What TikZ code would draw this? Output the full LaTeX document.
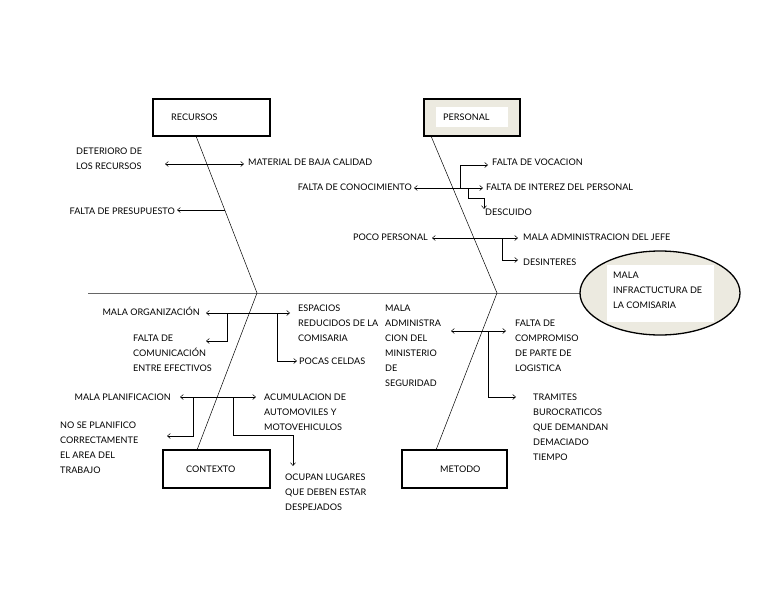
\documentclass[tikz,border=0pt]{standalone}
\usepackage{fontspec}
\setmainfont{Lato}
\usetikzlibrary{arrows.meta}
\begin{document}
\begin{tikzpicture}[x=1pt,y=-1pt,
  lbl/.style={anchor=west,align=left,inner sep=0pt,font=\fontsize{9.1}{15}\selectfont},
  lble/.style={lbl,anchor=east},
  bone/.style={draw,line width=0.5pt},
  arr/.style={-{Straight Barb[length=3pt,width=5pt]},line width=0.5pt},
  darr/.style={{Straight Barb[length=3pt,width=5pt]}-{Straight Barb[length=3pt,width=5pt]},line width=0.5pt}]
\useasboundingbox (0,0) rectangle (768,594);
% spine and head
\draw[gray!80!black,line width=1pt] (88,293) -- (582,293);
\draw[line width=1.3pt,fill={rgb,255:red,236;green,234;blue,224}] (660,293) ellipse (80 and 42);
\fill[white] (607,265) rectangle (714,322);
\node[lbl] (head) at (613,290) {MALA\\INFRACTUCTURA DE\\LA COMISARIA};
% category boxes
\draw[line width=1.3pt] (153,99) rectangle (270,136);
\node[lbl] (rec) at (171,117.5) {RECURSOS};
\draw[line width=1.3pt,fill={rgb,255:red,236;green,234;blue,224}] (424,99) rectangle (520,136);
\fill[white] (436,107) rectangle (508,127);
\node[lbl] (per) at (443,117.5) {PERSONAL};
\draw[line width=1.3pt] (163,450) rectangle (270,488);
\node[lbl] (ctx) at (186,469) {CONTEXTO};
\draw[line width=1.3pt] (402,450) rectangle (507,488);
\node[lbl] (met) at (440,469) {METODO};
% bones
\coordinate (j1) at (257,293); \coordinate (j2) at (497,293);
\draw[bone] (196,136) -- (j1) -- (197,450);
\draw[bone] (431,136) -- (j2) -- (436,450);
% RECURSOS
\node[lbl] (det) at (76,159) {DETERIORO DE\\LOS RECURSOS};
\node[lbl] (mat) at (248,162) {MATERIAL DE BAJA CALIDAD};
\draw[darr] (165,164) -- (244,164);
\node[lble] (pre) at (175,211) {FALTA DE PRESUPUESTO};
\draw[arr] (225,210) -- (177,210);
% PERSONAL
\node[lble] (con) at (412,187) {FALTA DE CONOCIMIENTO};
\node[lbl] (int) at (486,187) {FALTA DE INTEREZ DEL PERSONAL};
\node[lbl] (voc) at (492,162) {FALTA DE VOCACION};
\node[lbl] (des) at (485,212) {DESCUIDO};
\draw[darr] (414,188) -- (483,188);
\draw[arr] (460,188) -- (460,165) -- (488,165);
\draw[arr] (468,188) -- (468,198) -- (484,198) -- (484,209);
\node[lble] (poc) at (428,237) {POCO PERSONAL};
\node[lbl] (adm) at (523,237) {MALA ADMINISTRACION DEL JEFE};
\node[lbl] (dsi) at (523,262) {DESINTERES};
\draw[darr] (432,238) -- (518,238);
\draw[arr] (502,238) -- (502,260) -- (518,260);
% CONTEXTO upper
\node[lble] (org) at (200,311) {MALA ORGANIZACIÓN};
\node[lbl] (esp) at (298,323) {ESPACIOS\\REDUCIDOS DE LA\\COMISARIA};
\node[lbl] (com) at (133,353) {FALTA DE\\COMUNICACIÓN\\ENTRE EFECTIVOS};
\node[lbl] (cel) at (299,361) {POCAS CELDAS};
\draw[darr] (206,313) -- (290,313);
\draw[arr] (227,313) -- (227,341) -- (206,341);
\draw[arr] (277,313) -- (277,361) -- (297,361);
% CONTEXTO lower
\node[lble] (pla) at (171,397) {MALA PLANIFICACION};
\node[lbl] (acu) at (264,412) {ACUMULACION DE\\AUTOMOVILES Y\\MOTOVEHICULOS};
\node[lbl] (nos) at (60,447.5) {NO SE PLANIFICO\\CORRECTAMENTE\\EL AREA DEL\\TRABAJO};
\node[lbl] (ocu) at (285,492) {OCUPAN LUGARES\\QUE DEBEN ESTAR\\DESPEJADOS};
\draw[darr] (180,397) -- (256,397);
\draw[arr] (193,397) -- (193,436) -- (167,436);
\draw[arr] (233,397) -- (233,435) -- (293,435) -- (293,466);
% METODO
\node[lbl] (mad) at (385,345.5) {MALA\\ADMINISTRA\\CION DEL\\MINISTERIO\\DE\\SEGURIDAD};
\node[lbl] (fco) at (515,345.5) {FALTA DE\\COMPROMISO\\DE PARTE DE\\LOGISTICA};
\node[lbl] (tra) at (533,427) {TRAMITES\\BUROCRATICOS\\QUE DEMANDAN\\DEMACIADO\\TIEMPO};
\draw[darr] (451,331) -- (506,331);
\draw[arr] (488,331) -- (488,397) -- (516,397);
\end{tikzpicture}
\end{document}
